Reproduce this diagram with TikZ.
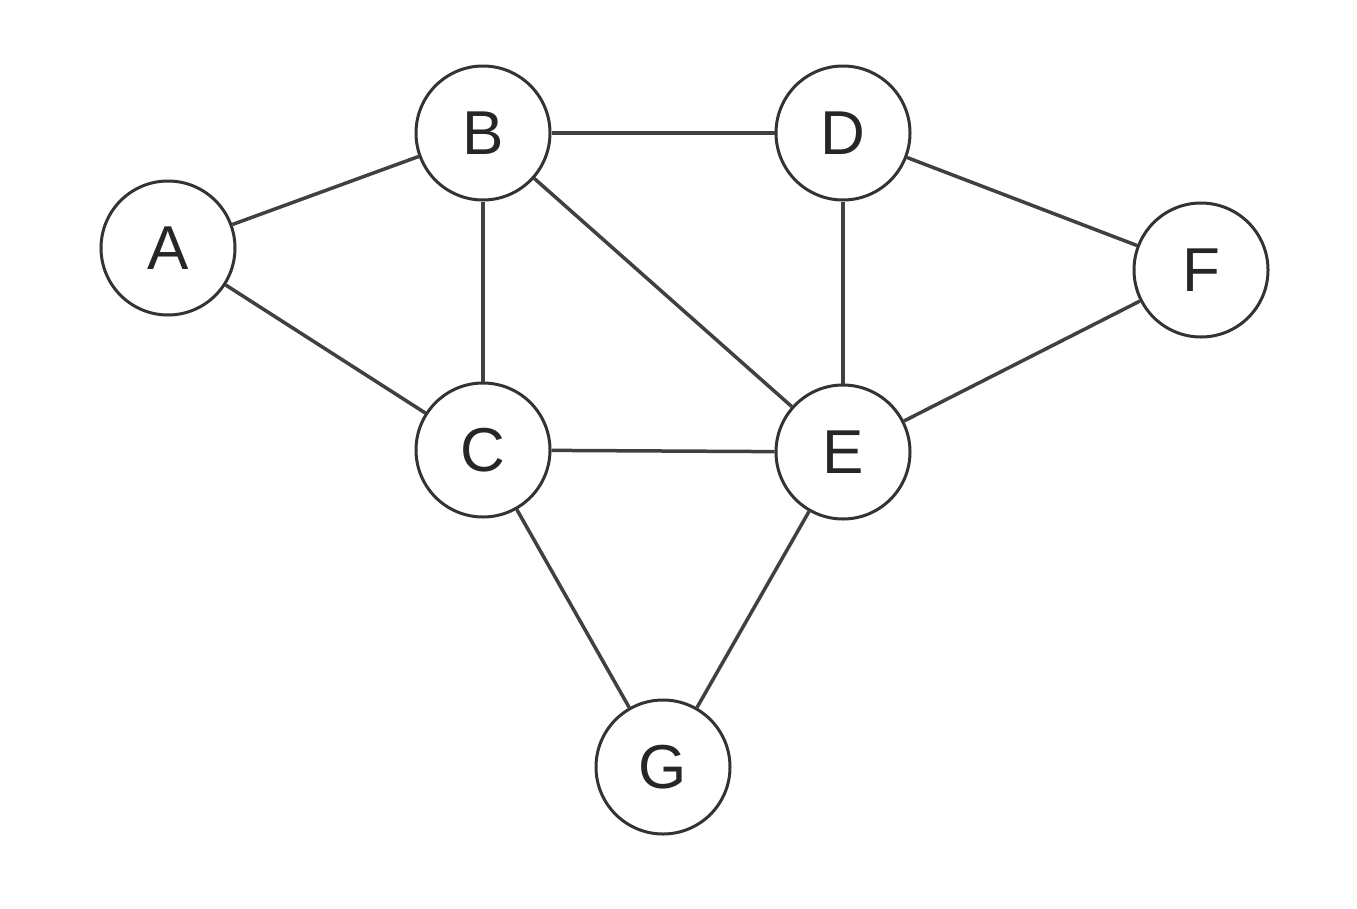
\documentclass[tikz,border=0pt]{standalone}
\usepackage{fontspec}
\setmainfont{Liberation Sans}
\begin{document}
\begin{tikzpicture}[x=1pt,y=-1pt,
  vert/.style={circle,draw=black!80,line width=3pt,minimum size=134pt,inner sep=0pt,font=\fontsize{62}{62}\selectfont,text=black!85},
  edge/.style={draw=black!75,line width=3.5pt}]
\useasboundingbox (0,0) rectangle (1357,908);
\node[vert] (A) at (168,248) {A};
\node[vert] (B) at (483,133) {B};
\node[vert] (D) at (843,133) {D};
\node[vert] (F) at (1201,270) {F};
\node[vert] (C) at (483,450) {C};
\node[vert] (E) at (843,452) {E};
\node[vert] (G) at (663,767) {G};
\foreach \u/\v in {A/B,A/C,B/D,B/C,B/E,D/E,D/F,C/E,E/F,C/G,E/G}
  \draw[edge] (\u) -- (\v);
\end{tikzpicture}
\end{document}
